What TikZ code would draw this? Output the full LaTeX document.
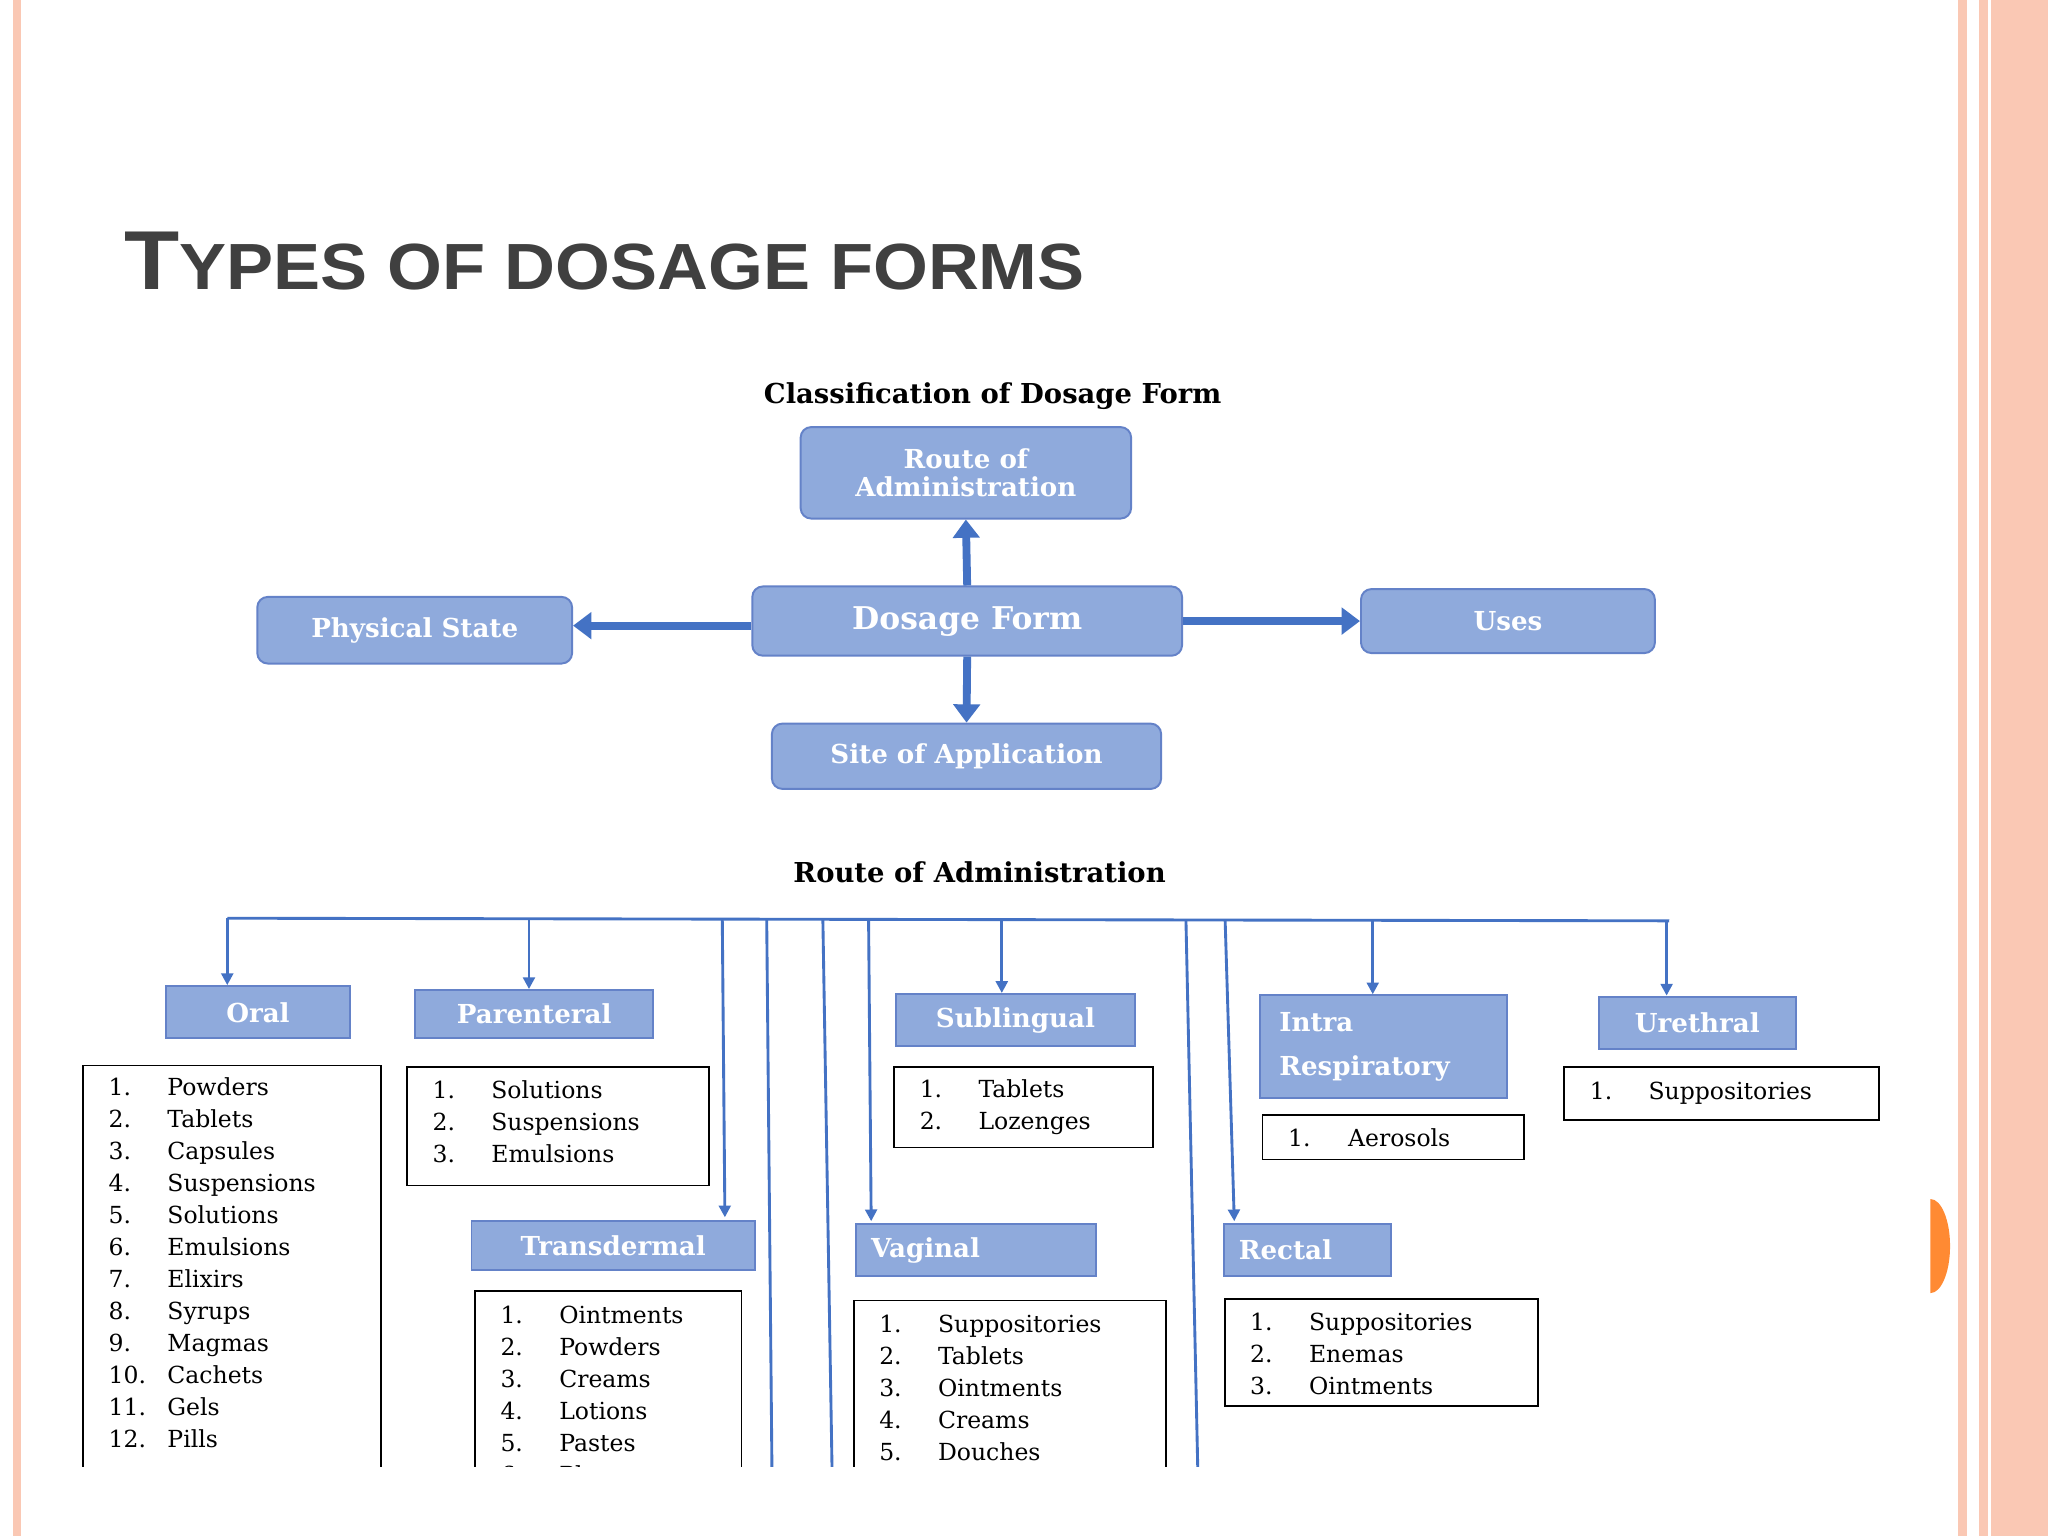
\documentclass[tikz,border=0pt]{standalone}
\usepackage{fontspec}
\setmainfont{DejaVu Serif}
\newfontfamily\ttl{Liberation Sans}
\usetikzlibrary{arrows.meta}
\definecolor{bfill}{RGB}{143,170,220}
\definecolor{bdraw}{RGB}{100,130,200}
\definecolor{arr}{RGB}{68,114,196}
\definecolor{peach}{RGB}{250,200,180}
\definecolor{tgray}{RGB}{64,64,64}
\newcommand\lstitems[4]{%
  \foreach \t [count=\i] in {#4}{
    \node[item] (n#1-\i) at (#1, {#2+(\i-1)*24.5}) {\i.};
    \node[item] (t#1-\i) at ({#1+#3}, {#2+(\i-1)*24.5}) {\t};
  }}
\begin{document}
\begin{tikzpicture}[x=1pt,y=-1pt,
  rbox/.style={draw=bdraw,line width=1.5,fill=bfill,rounded corners=8,text=white,font=\bfseries\fontsize{20}{24}\selectfont,align=center,inner sep=0},
  sbox/.style={draw=bdraw,line width=1.5,fill=bfill,text=white,font=\bfseries\fontsize{20}{24}\selectfont,inner sep=0},
  lbox/.style={draw=black,line width=1.3,inner sep=0},
  item/.style={anchor=base west,inner sep=0,font=\fontsize{18}{22}\selectfont},
  big/.style={draw=arr,line width=6,-{Triangle[length=14,width=20]}},
  con/.style={draw=arr,line width=2.2,-{Triangle[length=9,width=9]}},
  ln/.style={draw=arr,line width=2.2}]
\useasboundingbox (0,0) rectangle (1568,1176);
\fill[white] (0,0) rectangle (1568,1176);
\fill[peach] (10,0) rectangle (16,1176);
\fill[peach] (1499,0) rectangle (1506,1176);
\fill[peach] (1515,0) rectangle (1568,1176);
\fill[white] (1522,0) rectangle (1524,1176);
\fill[orange!85!red!80] (1478,990) arc[start angle=90,end angle=-90,x radius=15,y radius=36] -- cycle;
\node[anchor=base west,inner sep=0,text=tgray,font=\ttl\bfseries,xscale=1.08] (title) at (95,222)
  {{\fontsize{64}{64}\selectfont T}{\fontsize{50}{50}\selectfont YPES OF DOSAGE FORMS}};
\node[font=\bfseries\fontsize{21}{24}\selectfont] (cls) at (760,303) {Classification of Dosage Form};
\node[rbox,minimum width=253,minimum height=70] (roa) at (739.5,362) {Route of\\[-3pt]Administration};
\node[rbox,minimum width=329,minimum height=53,font=\bfseries\fontsize{24}{28}\selectfont] (df) at (740.5,475.5) {Dosage Form};
\node[rbox,minimum width=241,minimum height=51] (ps) at (317.5,482.5) {Physical State};
\node[rbox,minimum width=225,minimum height=49] (uses) at (1154.5,475.5) {Uses};
\node[rbox,minimum width=298,minimum height=50] (site) at (740,579) {Site of Application};
\draw[big] (df.north) -- (roa.south);
\draw[big] (df.west |- 0,479) -- (ps.east |- 0,479);
\draw[big] (df.east) -- (uses.west);
\draw[big] (df.south) -- (site.north);
\node[font=\bfseries\fontsize{21}{24}\selectfont] (rh) at (750,668) {Route of Administration};
\node[sbox,minimum width=141,minimum height=40] (oral) at (197.5,775) {Oral};
\node[sbox,minimum width=182,minimum height=37] (par) at (409,776.5) {Parenteral};
\node[sbox,minimum width=183,minimum height=40] (sub) at (777.5,781) {Sublingual};
\node[sbox,minimum width=189,minimum height=79,align=left,text width=160] (ir) at (1059.5,801.5) {Intra\\[10pt]Respiratory};
\node[sbox,minimum width=151,minimum height=40] (ure) at (1299.5,783) {Urethral};
\node[sbox,minimum width=217,minimum height=37] (trd) at (469.5,953.5) {Transdermal};
\node[sbox,minimum width=184,minimum height=40,text width=160,align=left] (vag) at (747,957) {Vaginal};
\node[sbox,minimum width=128,minimum height=40,text width=105,align=left] (rec) at (1001,957) {Rectal};
\coordinate (hl) at (174,703); \coordinate (hr) at (1278,705);
\draw[ln] (hl) -- (hr);
\draw[con] (174,703) -- (oral.north -| 174,0);
\draw[con] (405,703.5) -- (par.north -| 405,0);
\draw[con] (767,704) -- (sub.north -| 767,0);
\draw[con] (1051,705) -- (ir.north -| 1051,0);
\draw[con] (1276,705) -- (ure.north -| 1276,0);
\draw[con] (553,704) -- (555,932);
\draw[con] (665,704) -- (667,935);
\draw[con] (938,705) -- (945,935);
\draw[ln] (587,704) -- (591,1123);
\draw[ln] (630,704) -- (637,1123);
\draw[ln] (908,705) -- (917,1123);
\begin{scope}
\clip (0,0) rectangle (1568,1123);
\node[lbox,anchor=north west,minimum width=228,minimum height=308] (ol) at (63,815) {};
\lstitems{83}{839}{45}{Powders,Tablets,Capsules,Suspensions,Solutions,Emulsions,Elixirs,Syrups,Magmas,Cachets,Gels,Pills}
\node[lbox,anchor=north west,minimum width=231,minimum height=91] (pl) at (311,816) {};
\lstitems{331}{841}{45}{Solutions,Suspensions,Emulsions}
\node[lbox,anchor=north west,minimum width=198,minimum height=62] (sl) at (684,816) {};
\lstitems{704}{840}{45}{Tablets,Lozenges}
\node[lbox,anchor=north west,minimum width=200,minimum height=34] (al) at (966,853) {};
\lstitems{986}{878}{46}{Aerosols}
\node[lbox,anchor=north west,minimum width=241,minimum height=41] (ul) at (1197,816) {};
\lstitems{1217}{842}{45}{Suppositories}
\node[lbox,anchor=north west,minimum width=204,minimum height=160] (tl) at (363,988) {};
\lstitems{383}{1013}{45}{Ointments,Powders,Creams,Lotions,Pastes,Plasters}
\node[lbox,anchor=north west,minimum width=239,minimum height=160] (vl) at (653,995) {};
\lstitems{673}{1020}{45}{Suppositories,Tablets,Ointments,Creams,Douches}
\node[lbox,anchor=north west,minimum width=240,minimum height=82] (rl) at (937,994) {};
\lstitems{957}{1019}{45}{Suppositories,Enemas,Ointments}
\end{scope}
\end{tikzpicture}
\end{document}
